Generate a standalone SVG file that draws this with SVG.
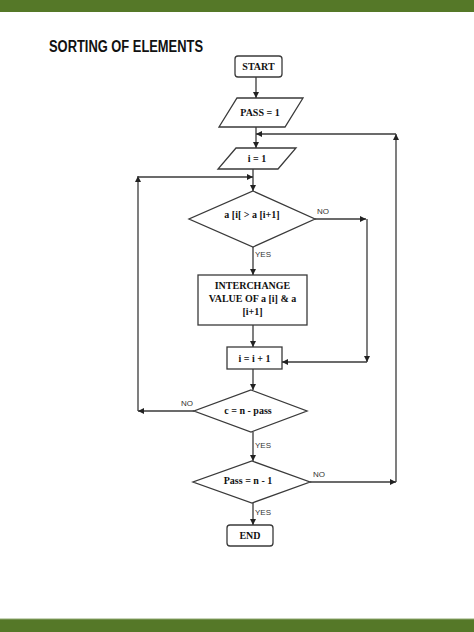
<svg xmlns="http://www.w3.org/2000/svg" width="474" height="632" viewBox="0 0 474 632">
<style>
.shape{fill:#fff;stroke:#3a3a3a;stroke-width:1.3}
.lbl{font-family:"Liberation Serif","Times New Roman",serif;font-weight:bold;font-size:10px;fill:#111;text-anchor:middle}
.yn{font-family:"Liberation Sans",Arial,sans-serif;font-size:8px;fill:#333}
.con path{fill:none;stroke:#3a3a3a;stroke-width:1.3;marker-end:url(#ah)}
</style>
<defs>
<marker id="ah" markerUnits="userSpaceOnUse" markerWidth="7" markerHeight="6" refX="6" refY="3" orient="auto">
<path d="M0,0 L6,3 L0,6 Z" fill="#222"/>
</marker>
</defs>
<rect x="0" y="0" width="474" height="632" fill="#fff"/>
<rect x="0" y="0" width="474" height="12" fill="#557828"/>
<rect x="0" y="619" width="474" height="13" fill="#557828"/>
<line x1="0" y1="619" x2="474" y2="619" stroke="#8fa870" stroke-width="1"/>
<text x="49" y="52" font-family="Liberation Sans,Arial,sans-serif" font-weight="bold" font-size="16" fill="#111" textLength="154" lengthAdjust="spacingAndGlyphs">SORTING OF ELEMENTS</text>

<g id="start"><rect class="shape" x="235" y="56" width="47" height="21" rx="3"/><text class="lbl" x="258.5" y="70">START</text></g>
<g id="pass1"><polygon class="shape" points="237,98 303,98 285,127 219,127"/><text class="lbl" x="260" y="116">PASS = 1</text></g>
<g id="i1"><polygon class="shape" points="236,148 296,148 278,169 218,169"/><text class="lbl" x="257" y="162">i = 1</text></g>
<g id="cmp"><polygon class="shape" points="253,191 315,219 253,247 189,219"/><text class="lbl" x="252" y="218">a [i[ &gt; a [i+1]</text></g>
<g id="swap"><rect class="shape" x="198" y="275" width="109" height="50"/>
<text class="lbl" x="252.5" y="289">INTERCHANGE</text><text class="lbl" x="252.5" y="302">VALUE OF a [i] &amp; a</text><text class="lbl" x="252.5" y="315">[i+1]</text></g>
<g id="inc"><rect class="shape" x="227" y="347" width="55" height="22"/><text class="lbl" x="254.5" y="362">i = i + 1</text></g>
<g id="chk1"><polygon class="shape" points="251,390 307,411 251,432 194,411"/><text class="lbl" x="248" y="414">c = n - pass</text></g>
<g id="chk2"><polygon class="shape" points="252,461 310,482 252,503 193,482"/><text class="lbl" x="248" y="484">Pass = n - 1</text></g>
<g id="end"><rect class="shape" x="227" y="525" width="46" height="21" rx="3"/><text class="lbl" x="250" y="539">END</text></g>

<g id="connectors" class="con">
<path d="M256 77 V98"/>
<path d="M256 127 V148"/>
<path d="M253 169 V191"/>
<path d="M253 247 V275"/>
<path d="M253 325 V347"/>
<path d="M253 369 V390"/>
<path d="M253 432 V461"/>
<path d="M253 503 V525"/>
<path d="M315 219 H366"/>
<path d="M367 219 V362"/>
<path d="M367 362 H282"/>
<path d="M194 411 H138"/>
<path d="M138 411 V176"/>
<path d="M138 177 H253"/>
<path d="M310 482 H396"/>
<path d="M396 482 V134"/>
<path d="M396 134 H256"/>
</g>
<text class="yn" x="317" y="214">NO</text>
<text class="yn" x="255" y="257">YES</text>
<text class="yn" x="181" y="406">NO</text>
<text class="yn" x="255" y="448">YES</text>
<text class="yn" x="313" y="477">NO</text>
<text class="yn" x="255" y="515">YES</text>
</svg>
